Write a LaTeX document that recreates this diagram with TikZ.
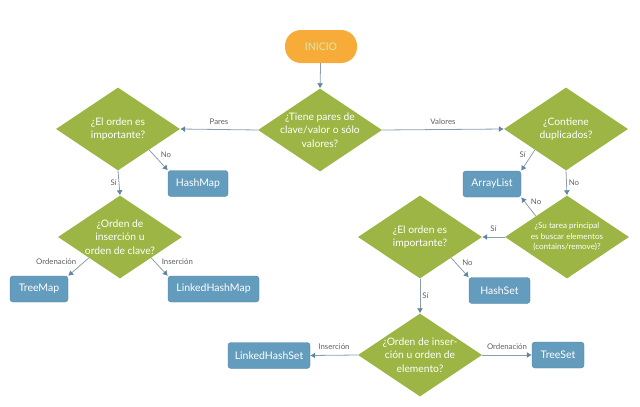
\documentclass[tikz,border=0pt]{standalone}
\usepackage{fontspec}
\setmainfont{Lato}
\usetikzlibrary{shapes.geometric,arrows.meta}
\definecolor{dgreen}{RGB}{157,181,68}
\definecolor{bblue}{RGB}{100,156,190}
\definecolor{bborder}{RGB}{80,130,165}
\definecolor{iorange}{RGB}{247,172,58}
\definecolor{itext}{RGB}{222,230,170}
\definecolor{lgray}{RGB}{140,158,172}
\definecolor{tipcol}{RGB}{95,135,160}
\definecolor{lbltext}{RGB}{95,95,95}
\tikzset{
  dia/.style={shape=diamond, fill=dgreen, inner sep=0pt, minimum width=124pt, minimum height=83pt},
  dtext/.style={text=white, font=\fontsize{10.3}{13.5}\selectfont, align=center, inner sep=0pt},
  stext/.style={text=white, font=\fontsize{8.1}{10.5}\selectfont, align=center, inner sep=0pt},
  box/.style={rectangle, rounded corners=3pt, fill=bblue, draw=bborder, line width=0.4pt, text=white, font=\fontsize{10.5}{12}\selectfont, minimum height=26pt, inner xsep=2pt},
  startnode/.style={rectangle, rounded corners=16pt, fill=iorange, text=itext, font=\fontsize{10.5}{12}\selectfont, minimum width=72pt, minimum height=33pt},
  conn/.style={draw=lgray, line width=0.8pt, -{Latex[length=5pt,width=6pt,color=tipcol]}},
  lbl/.style={text=lbltext, font=\fontsize{7.8}{9}\selectfont, inner sep=2pt},
}
\begin{document}
\begin{tikzpicture}[x=1pt,y=-1pt]
\useasboundingbox (0,0) rectangle (640,407);
% nodes
\node[startnode] (inicio) at (321,46.5) {INICIO};
\node[dia, label={[dtext]center:{¿Tiene pares de\\clave/valor o sólo\\valores?}}] (d1) at (320,130) {};
\node[dia, label={[dtext]center:{¿El orden es\\importante?}}] (d2) at (118,129) {};
\node[dia, label={[dtext]center:{¿Orden de\\inserción u\\orden de clave?}}] (d3) at (120,237) {};
\node[dia, label={[dtext]center:{¿Contiene\\duplicados?}}] (d4) at (566,129) {};
\node[dia, label={[stext]center:{¿Su tarea principal\\es buscar elementos\\(contains/remove)?}}] (d5) at (567,237) {};
\node[dia, label={[dtext]center:{¿El orden es\\importante?}}] (d6) at (420,237) {};
\node[dia, label={[dtext]center:{¿Orden de inser-\\ción u orden de\\elemento?}}] (d7) at (420,355) {};
\node[box, minimum width=60pt] (hashmap) at (198,183.5) {HashMap};
\node[box, minimum width=58pt] (treemap) at (39,289) {TreeMap};
\node[box, minimum width=91pt] (lhm) at (213.5,289) {LinkedHashMap};
\node[box, minimum width=58pt] (arraylist) at (492,184) {ArrayList};
\node[box, minimum width=61pt] (hashset) at (499.5,290.5) {HashSet};
\node[box, minimum width=52pt] (treeset) at (558,355) {TreeSet};
\node[box, minimum width=82pt] (lhs) at (269,355.5) {LinkedHashSet};
% connectors
\draw[conn] (inicio) -- (d1.north);
\draw[conn] (d1.west) -- node[lbl, above=3pt] (lpares) {Pares} (d2.east);
\draw[conn] (d1.east) -- node[lbl, above=3pt] (lvalores) {Valores} (d4.west);
\draw[conn] (d2.south east) -- node[lbl, above right] (lno1) {No} (hashmap.north west);
\draw[conn] (d2.south) -- node[lbl, left] (lsi1) {Sí} (d3.north);
\draw[conn] (d3.south west) -- node[lbl, above left] (lord1) {Ordenación} (treemap.north east);
\draw[conn] (d3.south east) -- node[lbl, above right] (lins1) {Inserción} (lhm.north west);
\draw[conn] (d4.south west) -- node[lbl, above left] (lsi2) {Sí} (arraylist.north east);
\draw[conn] (d4.south) -- node[lbl, right] (lno2) {No} (d5.north);
\draw[conn] (d5.north west) -- node[lbl, above right] (lno3) {No} (arraylist.south east);
\draw[conn] (d5.west) -- node[lbl, above=3pt] (lsi3) {Sí} (d6.east);
\draw[conn] (d6.south east) -- node[lbl, above right] (lno4) {No} (hashset.north west);
\draw[conn] (d6.south) -- node[lbl, right] (lsi4) {Sí} (d7.north);
\draw[conn] (d7.east) -- node[lbl, above=3pt] (lord2) {Ordenación} (treeset.west);
\draw[conn] (d7.west) -- node[lbl, above=3pt] (lins2) {Inserción} (lhs.east);
\end{tikzpicture}
\end{document}
